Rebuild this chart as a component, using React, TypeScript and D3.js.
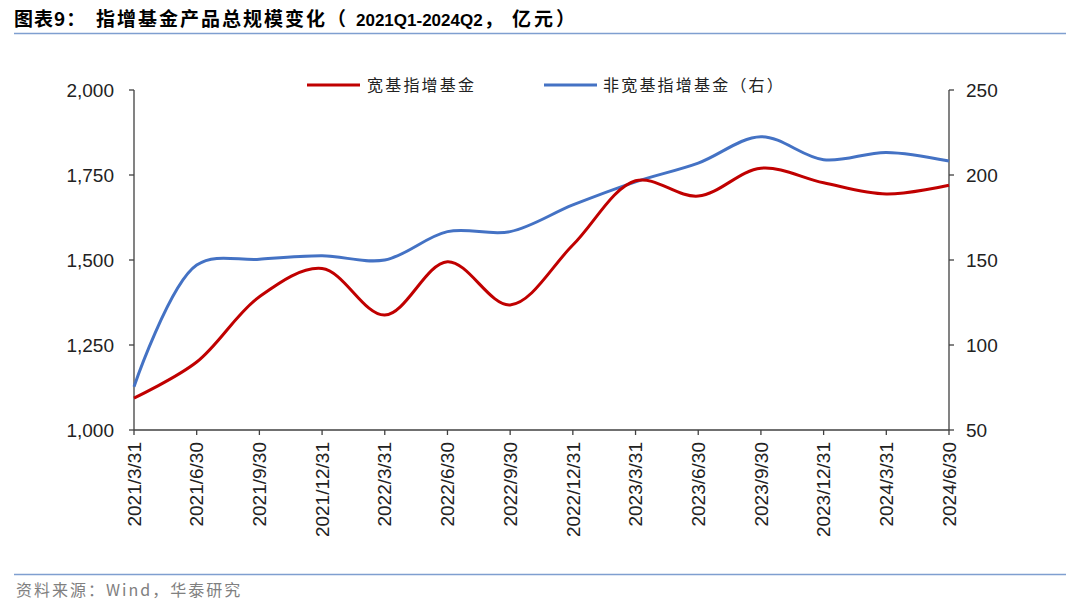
import React from "react";
import * as d3 from "d3";

const categories = [
  "2021/3/31", "2021/6/30", "2021/9/30", "2021/12/31",
  "2022/3/31", "2022/6/30", "2022/9/30", "2022/12/31",
  "2023/3/31", "2023/6/30", "2023/9/30", "2023/12/31",
  "2024/3/31", "2024/6/30",
];
const broadBased = [1094, 1200, 1392, 1475, 1338, 1495, 1368, 1544, 1733, 1688, 1770, 1727, 1694, 1720];
const nonBroadBased = [75.5, 147, 150.4, 152.5, 150, 166.7, 166.7, 182.4, 196, 207, 222.5, 209, 213.3, 208.2];
const leftTicks = [1000, 1250, 1500, 1750, 2000];
const rightTicks = [50, 100, 150, 200, 250];

const W = 1080, H = 609;
const L = 134, R = 949, T = 90, B = 430;
const RED = "#C00000", BLUE = "#4472C4";
const CJK = "'Noto Sans CJK SC', sans-serif";
const LAT = "'Liberation Sans', Arial, sans-serif";

export default function App() {
  const x = d3.scalePoint<string>().domain(categories).range([L, R]);
  const yL = d3.scaleLinear().domain([1000, 2000]).range([B, T]);
  const yR = d3.scaleLinear().domain([50, 250]).range([B, T]);
  const fmt = d3.format(",");
  const curve = d3.curveCatmullRom.alpha(0.5);
  const redPath = d3.line<number>().x((_, i) => x(categories[i])!).y((d) => yL(d)).curve(curve)(broadBased)!;
  const bluePath = d3.line<number>().x((_, i) => x(categories[i])!).y((d) => yR(d)).curve(curve)(nonBroadBased)!;
  const axisColor = "#404040";
  const tickFs = 19;

  return (
    <svg width={W} height={H} style={{ position: "absolute", left: 0, top: 0, background: "#fff" }}>
      <text x={14} y={26} fontFamily={CJK} fontWeight="bold" fontSize={19} fill="#000">
        <tspan letterSpacing={1}>图表9：</tspan>
        <tspan x={96} letterSpacing={2}>指增基金产品总规模变化（</tspan>
      </text>
      <text x={356} y={26} fontFamily={LAT} fontWeight="bold" fontSize={17} fill="#000">2021Q1-2024Q2</text>
      <text x={484} y={26} fontFamily={CJK} fontWeight="bold" fontSize={19} fill="#000">，</text>
      <text x={512} y={26} fontFamily={CJK} fontWeight="bold" fontSize={19} fill="#000" letterSpacing={3}>亿元）</text>
      <line x1={14} x2={1066} y1={33.5} y2={33.5} stroke="#7F9FD0" strokeWidth={1.5} />

      {/* left axis */}
      <line x1={L} x2={L} y1={T} y2={B} stroke={axisColor} strokeWidth={1.3} />
      {leftTicks.map((t) => (
        <g key={"l" + t}>
          <line x1={L - 5} x2={L} y1={yL(t)} y2={yL(t)} stroke={axisColor} strokeWidth={1.3} />
          <text x={114} y={yL(t)} dy="0.35em" textAnchor="end" fontFamily={LAT} fontSize={tickFs} fill="#222">{fmt(t)}</text>
        </g>
      ))}
      {/* right axis */}
      <line x1={R} x2={R} y1={T} y2={B} stroke={axisColor} strokeWidth={1.3} />
      {rightTicks.map((t) => (
        <g key={"r" + t}>
          <line x1={R} x2={R + 5} y1={yR(t)} y2={yR(t)} stroke={axisColor} strokeWidth={1.3} />
          <text x={966} y={yR(t)} dy="0.35em" textAnchor="start" fontFamily={LAT} fontSize={tickFs} fill="#222">{t}</text>
        </g>
      ))}
      {/* x axis */}
      <line x1={L} x2={R} y1={B} y2={B} stroke={axisColor} strokeWidth={1.3} />
      {categories.map((c) => (
        <g key={c}>
          <line x1={x(c)!} x2={x(c)!} y1={B} y2={B + 5} stroke={axisColor} strokeWidth={1.3} />
          <text transform={`translate(${x(c)!},${442}) rotate(-90)`} dy="0.35em" textAnchor="end" fontFamily={LAT} fontSize={tickFs} fill="#222">{c}</text>
        </g>
      ))}

      <path d={bluePath} fill="none" stroke={BLUE} strokeWidth={3} />
      <path d={redPath} fill="none" stroke={RED} strokeWidth={3} />

      {/* legend */}
      <line x1={307} x2={360} y1={85} y2={85} stroke={RED} strokeWidth={3} />
      <text x={367} y={85} dy="0.35em" fontFamily={CJK} fontSize={16} letterSpacing={2.2} fill="#222">宽基指增基金</text>
      <line x1={544} x2={597} y1={85} y2={85} stroke={BLUE} strokeWidth={3} />
      <text x={603} y={85} dy="0.35em" fontFamily={CJK} fontSize={16} letterSpacing={2.2} fill="#222">非宽基指增基金（右）</text>

      <line x1={14} x2={1066} y1={574.5} y2={574.5} stroke="#7F9FD0" strokeWidth={1.5} />
      <text x={16} y={596} fontFamily={CJK} fontSize={16} fill="#808080" letterSpacing={2}>资料来源：Wind，华泰研究</text>
    </svg>
  );
}
